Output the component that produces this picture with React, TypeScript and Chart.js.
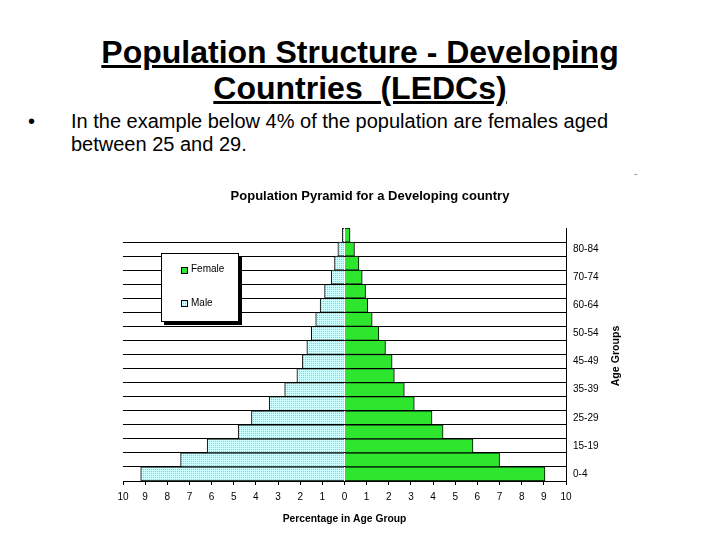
import React, { useEffect, useRef } from 'react';
import { Chart, registerables } from 'chart.js';

Chart.register(...registerables);

// ---- data (bottom row first) ----
const ageLabels = ['0-4', '', '15-19', '', '25-29', '', '35-39', '', '45-49', '', '50-54', '', '60-64', '', '70-74', '', '80-84', ''];
const femaleValues = [9.05, 7.0, 5.8, 4.45, 3.95, 3.15, 2.7, 2.25, 2.15, 1.85, 1.55, 1.25, 1.05, 0.95, 0.8, 0.65, 0.45, 0.25];
const maleValues = [9.2, 7.4, 6.2, 4.8, 4.2, 3.4, 2.7, 2.15, 1.9, 1.7, 1.5, 1.3, 1.1, 0.9, 0.6, 0.45, 0.3, 0.1];
const seriesNames = ['Female', 'Male'];

const pageTitleLines = ['Population Structure - Developing', 'Countries  (LEDCs)'];
const bulletLines = ['In the example below 4% of the population are females aged', 'between 25 and 29.'];
const chartTitle = 'Population Pyramid for a Developing country';
const xAxisTitle = 'Percentage in Age Group';
const yAxisTitle = 'Age Groups';

const FONT = '"Liberation Sans", Arial, Helvetica, sans-serif';
const GREEN = '#2ee62e';

function makeMalePattern(): CanvasPattern | string {
  const c = document.createElement('canvas');
  c.width = 2;
  c.height = 2;
  const g = c.getContext('2d');
  if (!g) return '#c4f4f4';
  g.fillStyle = '#ccffff';
  g.fillRect(0, 0, 2, 2);
  g.fillStyle = '#95caca';
  g.fillRect(1, 1, 1, 1);
  const p = g.createPattern(c, 'repeat');
  return p || '#c4f4f4';
}

const overlayPlugin = {
  id: 'overlay',
  afterDraw(chart: any) {
    const ctx: CanvasRenderingContext2D = chart.ctx;
    const area = chart.chartArea;
    ctx.save();
    ctx.fillStyle = '#000';
    ctx.textAlign = 'center';
    ctx.textBaseline = 'middle';
    ctx.font = `bold 13px ${FONT}`;
    ctx.fillText(chartTitle, 370, 196);
    ctx.font = `bold 10.3px ${FONT}`;
    ctx.fillText(xAxisTitle, (area.left + area.right) / 2, 519);
    ctx.save();
    ctx.translate(616, 356);
    ctx.rotate(-Math.PI / 2);
    ctx.font = `bold 10.6px ${FONT}`;
    ctx.fillText(yAxisTitle, 0, 0);
    ctx.restore();

    // legend box
    const bx = 161, by = 253, bw = 78, bh = 69;
    ctx.fillStyle = '#000';
    ctx.fillRect(bx + 3, by + 3, bw, bh);
    ctx.fillStyle = '#fff';
    ctx.fillRect(bx, by, bw, bh);
    ctx.strokeStyle = '#000';
    ctx.lineWidth = 1;
    ctx.strokeRect(bx + 0.5, by + 0.5, bw - 1, bh - 1);
    const ds = chart.data.datasets;
    const rows = [269.5, 303];
    ctx.textAlign = 'left';
    ctx.font = `10px ${FONT}`;
    ds.forEach((d: any, i: number) => {
      const y = rows[i];
      ctx.fillStyle = d.backgroundColor;
      ctx.fillRect(181, Math.round(y) - 3, 6, 6);
      ctx.strokeStyle = '#000';
      ctx.strokeRect(181.5, Math.round(y) - 2.5, 6, 6);
      ctx.fillStyle = '#000';
      ctx.fillText(d.label, 191, y);
    });
    ctx.restore();
  },
};

export default function App() {
  const ref = useRef<HTMLCanvasElement | null>(null);

  useEffect(() => {
    if (!ref.current) return;
    const malePattern = makeMalePattern();
    const chart = new Chart(ref.current, {
      type: 'bar',
      data: {
        labels: ageLabels,
        datasets: [
          {
            label: seriesNames[0],
            data: femaleValues,
            backgroundColor: GREEN,
            borderColor: '#000',
            borderWidth: 1,
            barPercentage: 1,
            categoryPercentage: 1,
            stack: 'pyr',
          },
          {
            label: seriesNames[1],
            data: maleValues.map((v) => -v),
            backgroundColor: malePattern as any,
            borderColor: '#000',
            borderWidth: 1,
            barPercentage: 1,
            categoryPercentage: 1,
            stack: 'pyr',
          },
        ],
      },
      options: {
        indexAxis: 'y',
        responsive: false,
        animation: false,
        layout: { padding: { left: 123, top: 228, right: 0, bottom: 0 } },
        plugins: {
          legend: { display: false },
          title: { display: false },
          tooltip: { enabled: false },
        },
        scales: {
          x: {
            stacked: true,
            min: -10,
            max: 10,
            ticks: {
              stepSize: 1,
              autoSkip: false,
              maxRotation: 0,
              color: '#000',
              padding: 6,
              font: { family: FONT, size: 10 },
              callback: (v: any) => String(Math.abs(Number(v))),
            },
            grid: { drawOnChartArea: false, drawTicks: true, tickLength: 4, color: '#000' },
            border: { color: '#000', width: 1 },
            afterFit: (s: any) => {
              s.height = 59;
            },
          },
          y: {
            stacked: true,
            reverse: true,
            position: 'right',
            ticks: {
              autoSkip: false,
              color: '#000',
              padding: 7,
              font: { family: FONT, size: 10 },
            },
            grid: {
              drawTicks: false,
              color: (c: any) => (c.type === 'tick' ? '#000' : 'rgba(0,0,0,0)'),
            },
            border: { color: '#000', width: 1 },
            afterFit: (s: any) => {
              s.width = 154;
            },
          },
        },
      } as any,
      plugins: [overlayPlugin],
    });
    return () => chart.destroy();
  }, []);

  return (
    <div style={{ position: 'fixed', left: 0, top: 0, width: 720, height: 540, background: '#fff', overflow: 'hidden' }}>
      <div
        style={{
          position: 'absolute',
          left: 0,
          top: 34,
          width: 720,
          textAlign: 'center',
          fontFamily: FONT,
          fontWeight: 'bold',
          fontSize: 32,
          lineHeight: '36px',
          textDecoration: 'underline',
          whiteSpace: 'pre',
          color: '#000',
        }}
      >
        {pageTitleLines[0]}
        <br />
        {pageTitleLines[1]}
      </div>
      <div style={{ position: 'absolute', left: 28, top: 110, fontFamily: FONT, fontSize: 20, lineHeight: '23px', color: '#000' }}>•</div>
      <div
        style={{
          position: 'absolute',
          left: 71,
          top: 110,
          fontFamily: FONT,
          fontSize: 20,
          lineHeight: '23px',
          whiteSpace: 'pre',
          color: '#000',
        }}
      >
        {bulletLines[0]}
        <br />
        {bulletLines[1]}
      </div>
      <div style={{ position: 'absolute', left: 634, top: 168, fontFamily: FONT, fontSize: 10, color: '#888' }}>-</div>
      <canvas ref={ref} width={720} height={540} style={{ position: 'absolute', left: 0, top: 0, width: 720, height: 540 }} />
    </div>
  );
}
